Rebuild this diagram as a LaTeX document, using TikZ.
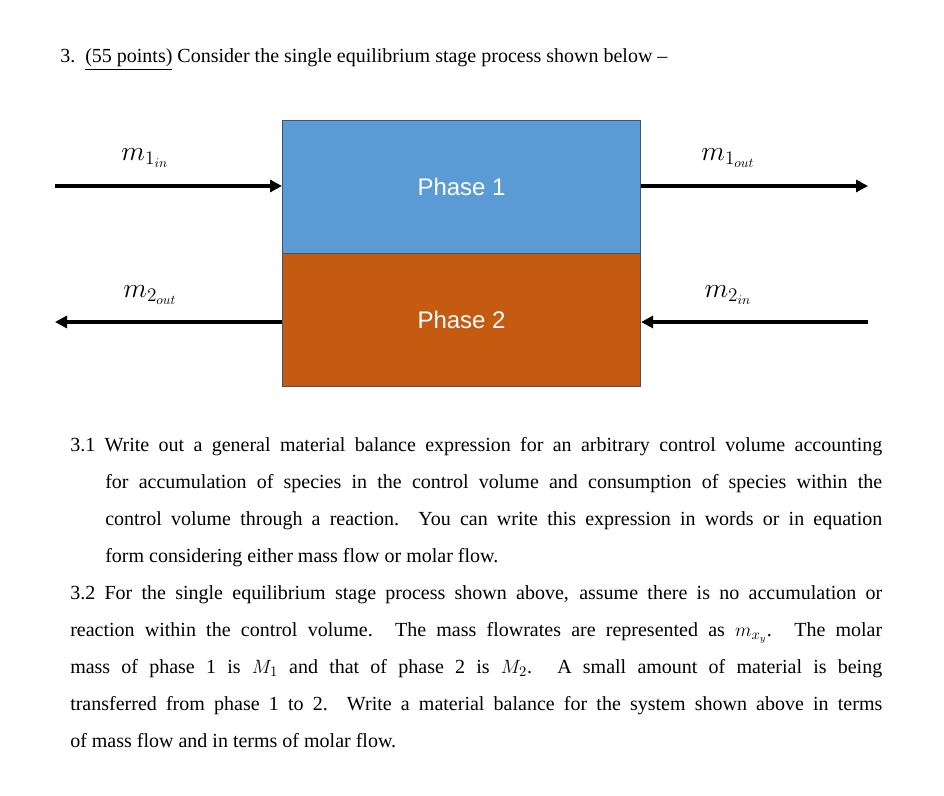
\documentclass[tikz,border=0pt]{standalone}
\usepackage{fontspec}
\setmainfont{Liberation Serif}
\newfontfamily\labelsans{Liberation Sans}
\usetikzlibrary{arrows.meta, positioning}
\definecolor{phaseblue}{HTML}{5B9BD5}
\definecolor{phaseorange}{HTML}{C55A11}
\definecolor{boxedge}{HTML}{41546E}

\begin{document}
\begin{tikzpicture}[
    x=0.75pt, y=-0.75pt,
    phase/.style={draw=boxedge, line width=0.8pt, minimum width=268.5pt, minimum height=99.5pt, inner sep=0pt},
    phase_text/.style={text=white, font=\labelsans\fontsize{18}{20}\selectfont},
    stream/.style={line width=3pt, -{Triangle[length=9pt, width=9pt]}},
    flow_label/.style={font=\fontsize{20}{22}\selectfont},
    question/.style={anchor=north west, inner sep=0pt, align=justify, font=\fontsize{15}{27.75}\selectfont}
]
\useasboundingbox (0,0) rectangle (944,795);

% Heading
\node[anchor=base west, inner sep=0pt, font=\fontsize{15}{18}\selectfont] (title) at (60,63)
    {3.\ \ \underline{(55 points)} Consider the single equilibrium stage process shown below --};

% Stage
\node[phase, fill=phaseblue, anchor=north west] (phase_one) at (282,120) {};
\node[phase, fill=phaseorange, anchor=north west] (phase_two) at (282,253) {};
\node[phase_text] at (phase_one) {Phase 1};
\node[phase_text] at (phase_two) {Phase 2};

% Stream ends
\coordinate (in_one) at (55,186);
\coordinate (out_one) at (868,186);
\coordinate (out_two) at (55,322);
\coordinate (in_two) at (868,322);

\draw[stream] (in_one) -- (phase_one.west |- in_one);
\draw[stream] (phase_one.east |- out_one) -- (out_one);
\draw[stream] (phase_two.west |- out_two) -- (out_two);
\draw[stream] (in_two) -- (phase_two.east |- in_two);

% Stream labels
\node[flow_label] (lbl_in_one) at (145,158) {$m_{1_{in}}$};
\node[flow_label] (lbl_out_one) at (728,158) {$m_{1_{out}}$};
\node[flow_label] (lbl_out_two) at (150,295) {$m_{2_{out}}$};
\node[flow_label] (lbl_in_two) at (728,295) {$m_{2_{in}}$};

% Questions
\node[question, text width=609pt] (part_one) at (70,437) {%
    \hangindent=26.25pt\hangafter=1
    3.1 Write out a general material balance expression for an arbitrary control volume accounting\linebreak
    for accumulation of species in the control volume and consumption of species within the\linebreak
    control volume through a reaction. You can write this expression in words or in equation\linebreak
    form considering either mass flow or molar flow.\par
    \hangindent=26.25pt\hangafter=1
    3.2 For the single equilibrium stage process shown above, assume there is no accumulation or\linebreak
    reaction within the control volume. The mass flowrates are represented as $m_{x_y}$. The molar\linebreak
    mass of phase 1 is $M_1$ and that of phase 2 is $M_2$. A small amount of material is being\linebreak
    transferred from phase 1 to 2. Write a material balance for the system shown above in terms\linebreak
    of mass flow and in terms of molar flow.};

\end{tikzpicture}
\end{document}
